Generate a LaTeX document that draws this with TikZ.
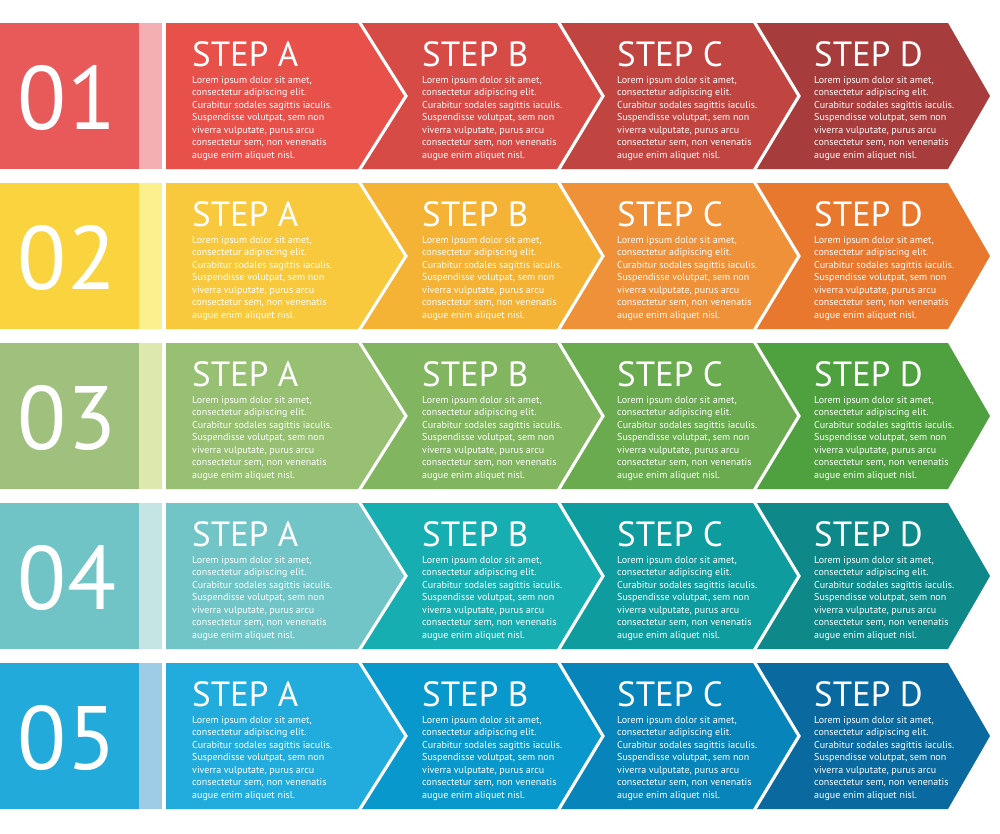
\documentclass[tikz,border=0pt]{standalone}
\usepackage{fontspec}
\setmainfont{PT Sans}
\definecolor{c1n}{HTML}{E85A59}\definecolor{c1s}{HTML}{F4AFB2}\definecolor{c1a}{HTML}{E8504A}\definecolor{c1b}{HTML}{D64B45}\definecolor{c1c}{HTML}{C0443F}\definecolor{c1d}{HTML}{A63C3B}
\definecolor{c2n}{HTML}{F9D43F}\definecolor{c2s}{HTML}{FCEF8E}\definecolor{c2a}{HTML}{F8C93C}\definecolor{c2b}{HTML}{F4B335}\definecolor{c2c}{HTML}{EE9138}\definecolor{c2d}{HTML}{E9782F}
\definecolor{c3n}{HTML}{9FC17D}\definecolor{c3s}{HTML}{DCE8AE}\definecolor{c3a}{HTML}{97C072}\definecolor{c3b}{HTML}{82B55F}\definecolor{c3c}{HTML}{69AB4E}\definecolor{c3d}{HTML}{4FA03F}
\definecolor{c4n}{HTML}{70C4C5}\definecolor{c4s}{HTML}{C5E5E4}\definecolor{c4a}{HTML}{72C5C7}\definecolor{c4b}{HTML}{17AEB2}\definecolor{c4c}{HTML}{0F9C9E}\definecolor{c4d}{HTML}{0E8889}
\definecolor{c5n}{HTML}{22AADB}\definecolor{c5s}{HTML}{9ECBE5}\definecolor{c5a}{HTML}{22ACDD}\definecolor{c5b}{HTML}{0898CC}\definecolor{c5c}{HTML}{0784BA}\definecolor{c5d}{HTML}{0A6AA0}
\newcommand{\lorembody}{Lorem ipsum dolor sit amet,\\consectetur adipiscing elit.\\Curabitur sodales sagittis iaculis.\\Suspendisse volutpat, sem non\\viverra vulputate, purus arcu\\consectetur sem, non venenatis\\augue enim aliquet nisl.}
\begin{document}
\begin{tikzpicture}[x=1pt,y=-1pt,
  titletext/.style={text=white,font=\fontsize{35}{35}\selectfont,anchor=base west,inner sep=0pt},
  bodytext/.style={text=white,font=\fontsize{10}{12.5}\selectfont,anchor=base west,align=left,inner sep=0pt},
  numtext/.style={text=white,font=\fontsize{90}{90}\selectfont,anchor=base,inner sep=0pt}]
\useasboundingbox[fill=white] (0,0) rectangle (1000,833);
\foreach \r/\lab in {1/01,2/02,3/03,4/04,5/05}{
  \pgfmathsetmacro\T{23+160*(\r-1)}
  \pgfmathsetmacro\B{\T+146}
  \pgfmathsetmacro\M{\T+73}
  \fill[c\r n] (0,\T) rectangle (139,\B);
  \fill[c\r s] (139,\T) rectangle (162,\B);
  \fill[c\r a] (166,\T) -- (358,\T) -- (404,\M) -- (358,\B) -- (166,\B) -- cycle;
  \fill[c\r b] (362,\T) -- (557,\T) -- (601,\M) -- (557,\B) -- (362,\B) -- (408,\M) -- cycle;
  \fill[c\r c] (561,\T) -- (753,\T) -- (797,\M) -- (753,\B) -- (561,\B) -- (605,\M) -- cycle;
  \fill[c\r d] (757,\T) -- (948,\T) -- (990,\M) -- (948,\B) -- (757,\B) -- (801,\M) -- cycle;
  \node[numtext] (num\r) at (67,\T+106) {\lab};
  \foreach \s/\x in {A/192,B/422,C/617,D/814}{
    \node[titletext] (title\r\s) at (\x,\T+43) {STEP \s};
    \node[bodytext] (body\r\s) at (\x,\T+135) {\lorembody};
  }
}
\end{tikzpicture}
\end{document}
